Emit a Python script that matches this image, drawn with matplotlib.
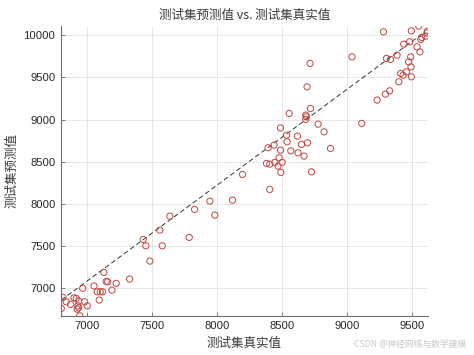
import numpy as np
import matplotlib
matplotlib.use('Agg')
import matplotlib.pyplot as plt

# true values (x) and predicted values (y) of the test set
true_vals = [
    9280, 9552, 9495, 9618, 9615, 9605, 9575, 9567, 9436, 9482, 9538, 9561,
    9038, 9303, 9334, 9385, 9490, 9474, 9492, 9457, 9413, 9431, 9495, 9398,
    9328, 9295, 9231, 9113,
    8715, 8692, 8554, 8718, 8682, 8686, 8682, 8777, 8488, 8823, 8534, 8618,
    8538, 8649, 8695, 8872, 8438, 8392, 8488, 8567, 8623, 8669, 8380, 8405,
    8444, 8477, 8500, 8469, 8490, 8726, 8405,
    8195, 8118, 7944, 7982, 7826, 7636, 7559, 7785, 7431, 7451, 7577, 7482,
    7128, 7326, 7146, 7157, 7223, 7052, 6965, 7190, 7077, 7100, 7118, 7092,
    6813, 6898, 6915, 6838, 6872, 6934, 6980, 7000, 6928, 6934, 6923, 6800,
    6942,
]
pred_vals = [
    10039, 10107, 10051, 10047, 10025, 9988, 9973, 9949, 9893, 9921, 9861, 9802,
    9743, 9724, 9712, 9763, 9743, 9684, 9624, 9565, 9546, 9526, 9506, 9447,
    9340, 9301, 9230, 8954,
    9665, 9387, 9072, 9131, 9052, 9032, 9001, 8945, 8900, 8854, 8815, 8803,
    8736, 8705, 8724, 8657, 8697, 8665, 8637, 8629, 8605, 8566, 8480, 8471,
    8492, 8546, 8492, 8448, 8373, 8380, 8172,
    8349, 8045, 8033, 7867, 7935, 7855, 7689, 7603, 7579, 7503, 7503, 7322,
    7188, 7109, 7081, 7077, 7058, 7027, 7000, 6978, 6958, 6958, 6958, 6860,
    6892, 6887, 6880, 6840, 6809, 6848, 6840, 6792, 6792, 6769, 6753, 6761,
    6674,
]

# dashed reference line end points
line_x = [6800, 9600]
line_y = [6860, 10040]

x_ticks = [7000, 7500, 8000, 8500, 9000, 9500]
y_ticks = [7000, 7500, 8000, 8500, 9000, 9500, 10000]

cjk = ['Noto Sans CJK SC', 'DejaVu Sans']
plt.rcParams['font.family'] = ['Liberation Sans', 'DejaVu Sans']

fig = plt.figure(figsize=(4.74, 3.55), dpi=100)
ax = fig.add_axes([0.1287, 0.1107, 0.774, 0.816])

ax.plot(line_x, line_y, color='#333333', linestyle=(0, (5, 3)), linewidth=0.7, zorder=2)
ax.scatter(true_vals, pred_vals, s=20, facecolors='none', edgecolors='#c0453f',
           linewidths=0.7, zorder=3)

ax.set_xlim(6798, 9622)
ax.set_ylim(6675, 10108)
ax.set_xticks(x_ticks)
ax.set_yticks(y_ticks)
ax.grid(True, color='#e3e3e3', linewidth=0.6)
ax.set_axisbelow(True)

for side in ['top', 'right']:
    ax.spines[side].set_visible(False)
for side in ['left', 'bottom']:
    ax.spines[side].set_color('#6e6e6e')
    ax.spines[side].set_linewidth(0.8)
ax.tick_params(direction='in', length=3, width=0.6, color='#6e6e6e',
               labelsize=8.1, labelcolor='#262626', pad=4)

ax.set_title('测试集预测值 vs. 测试集真实值', family=cjk, fontsize=9,
             color='#3a3a3a', pad=5)
ax.set_xlabel('测试集真实值', family=cjk, fontsize=9, color='#3a3a3a', labelpad=4)
ax.set_ylabel('测试集预测值', family=cjk, fontsize=9, color='#3a3a3a', labelpad=4)

fig.text(0.983, 0.028, 'CSDN @神经网络与数学建模', family=cjk, fontsize=6.3,
         color='#c8c8c8', ha='right', va='center')

fig.savefig('out.png', dpi=100)
